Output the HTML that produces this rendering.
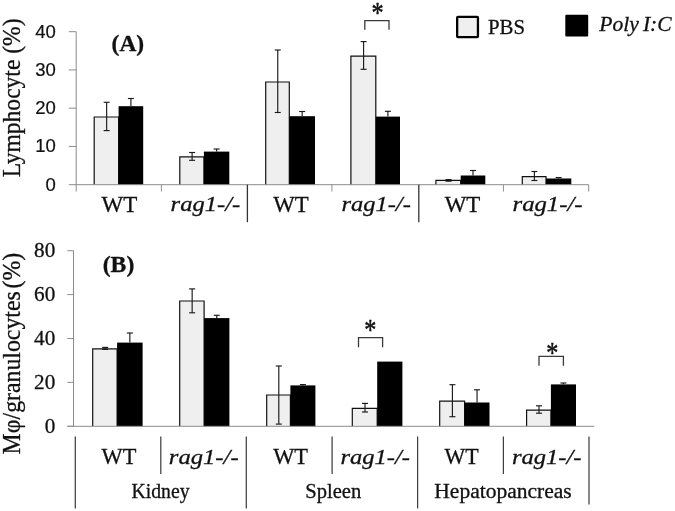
<!DOCTYPE html>
<html><head><meta charset="utf-8"><title>Figure</title>
<style>html,body{margin:0;padding:0;background:#fff}svg{display:block}</style></head>
<body><svg width="675" height="511" viewBox="0 0 675 511">
<rect width="675" height="511" fill="#fff"/>
<text x="55.80" y="190.70" font-family="&quot;Liberation Sans&quot;, sans-serif" font-size="18" text-anchor="end" textLength="10.30" lengthAdjust="spacingAndGlyphs" fill="#111" stroke="#111" stroke-width="0.2">0</text>
<text x="55.80" y="152.45" font-family="&quot;Liberation Sans&quot;, sans-serif" font-size="18" text-anchor="end" textLength="20.60" lengthAdjust="spacingAndGlyphs" fill="#111" stroke="#111" stroke-width="0.2">10</text>
<text x="55.80" y="114.20" font-family="&quot;Liberation Sans&quot;, sans-serif" font-size="18" text-anchor="end" textLength="20.60" lengthAdjust="spacingAndGlyphs" fill="#111" stroke="#111" stroke-width="0.2">20</text>
<text x="55.80" y="75.95" font-family="&quot;Liberation Sans&quot;, sans-serif" font-size="18" text-anchor="end" textLength="20.60" lengthAdjust="spacingAndGlyphs" fill="#111" stroke="#111" stroke-width="0.2">30</text>
<text x="55.80" y="37.70" font-family="&quot;Liberation Sans&quot;, sans-serif" font-size="18" text-anchor="end" textLength="20.60" lengthAdjust="spacingAndGlyphs" fill="#111" stroke="#111" stroke-width="0.2">40</text>
<rect x="94.20" y="117.00" width="24.40" height="67.70" fill="#efefef"/>
<path d="M94.20 184.70V117.00H118.60V184.70" fill="none" stroke="#111" stroke-width="1.2"/>
<rect x="118.60" y="106.20" width="24.60" height="78.50" fill="#000"/>
<line x1="106.65" y1="102.30" x2="106.65" y2="130.60" stroke="#1a1a1a" stroke-width="1.15"/>
<line x1="103.65" y1="102.30" x2="109.65" y2="102.30" stroke="#1a1a1a" stroke-width="1.15"/>
<line x1="103.65" y1="130.60" x2="109.65" y2="130.60" stroke="#1a1a1a" stroke-width="1.15"/>
<line x1="130.90" y1="98.50" x2="130.90" y2="106.20" stroke="#1a1a1a" stroke-width="1.15"/>
<line x1="127.90" y1="98.50" x2="133.90" y2="98.50" stroke="#1a1a1a" stroke-width="1.15"/>
<rect x="179.80" y="156.90" width="24.10" height="27.80" fill="#efefef"/>
<path d="M179.80 184.70V156.90H203.90V184.70" fill="none" stroke="#111" stroke-width="1.2"/>
<rect x="203.90" y="151.60" width="25.40" height="33.10" fill="#000"/>
<line x1="192.10" y1="152.50" x2="192.10" y2="160.30" stroke="#1a1a1a" stroke-width="1.15"/>
<line x1="189.10" y1="152.50" x2="195.10" y2="152.50" stroke="#1a1a1a" stroke-width="1.15"/>
<line x1="189.10" y1="160.30" x2="195.10" y2="160.30" stroke="#1a1a1a" stroke-width="1.15"/>
<line x1="216.60" y1="149.00" x2="216.60" y2="151.60" stroke="#1a1a1a" stroke-width="1.15"/>
<line x1="213.60" y1="149.00" x2="219.60" y2="149.00" stroke="#1a1a1a" stroke-width="1.15"/>
<rect x="265.70" y="82.00" width="23.60" height="102.70" fill="#efefef"/>
<path d="M265.70 184.70V82.00H289.30V184.70" fill="none" stroke="#111" stroke-width="1.2"/>
<rect x="289.30" y="116.20" width="25.70" height="68.50" fill="#000"/>
<line x1="277.75" y1="50.00" x2="277.75" y2="112.50" stroke="#1a1a1a" stroke-width="1.15"/>
<line x1="274.75" y1="50.00" x2="280.75" y2="50.00" stroke="#1a1a1a" stroke-width="1.15"/>
<line x1="274.75" y1="112.50" x2="280.75" y2="112.50" stroke="#1a1a1a" stroke-width="1.15"/>
<line x1="302.15" y1="111.50" x2="302.15" y2="116.20" stroke="#1a1a1a" stroke-width="1.15"/>
<line x1="299.15" y1="111.50" x2="305.15" y2="111.50" stroke="#1a1a1a" stroke-width="1.15"/>
<rect x="350.90" y="56.20" width="24.90" height="128.50" fill="#efefef"/>
<path d="M350.90 184.70V56.20H375.80V184.70" fill="none" stroke="#111" stroke-width="1.2"/>
<rect x="375.80" y="116.60" width="24.20" height="68.10" fill="#000"/>
<line x1="363.60" y1="41.60" x2="363.60" y2="69.30" stroke="#1a1a1a" stroke-width="1.15"/>
<line x1="360.60" y1="41.60" x2="366.60" y2="41.60" stroke="#1a1a1a" stroke-width="1.15"/>
<line x1="360.60" y1="69.30" x2="366.60" y2="69.30" stroke="#1a1a1a" stroke-width="1.15"/>
<line x1="387.90" y1="111.30" x2="387.90" y2="116.60" stroke="#1a1a1a" stroke-width="1.15"/>
<line x1="384.90" y1="111.30" x2="390.90" y2="111.30" stroke="#1a1a1a" stroke-width="1.15"/>
<rect x="435.90" y="180.40" width="24.80" height="4.30" fill="#efefef"/>
<path d="M435.90 184.70V180.40H460.70V184.70" fill="none" stroke="#111" stroke-width="1.2"/>
<rect x="460.70" y="175.50" width="24.60" height="9.20" fill="#000"/>
<line x1="448.55" y1="179.60" x2="448.55" y2="181.20" stroke="#1a1a1a" stroke-width="1.15"/>
<line x1="445.55" y1="179.60" x2="451.55" y2="179.60" stroke="#1a1a1a" stroke-width="1.15"/>
<line x1="445.55" y1="181.20" x2="451.55" y2="181.20" stroke="#1a1a1a" stroke-width="1.15"/>
<line x1="473.00" y1="170.50" x2="473.00" y2="175.50" stroke="#1a1a1a" stroke-width="1.15"/>
<line x1="470.00" y1="170.50" x2="476.00" y2="170.50" stroke="#1a1a1a" stroke-width="1.15"/>
<rect x="522.30" y="176.60" width="23.70" height="8.10" fill="#efefef"/>
<path d="M522.30 184.70V176.60H546.00V184.70" fill="none" stroke="#111" stroke-width="1.2"/>
<rect x="546.00" y="178.50" width="25.30" height="6.20" fill="#000"/>
<line x1="534.40" y1="171.50" x2="534.40" y2="180.50" stroke="#1a1a1a" stroke-width="1.15"/>
<line x1="531.40" y1="171.50" x2="537.40" y2="171.50" stroke="#1a1a1a" stroke-width="1.15"/>
<line x1="531.40" y1="180.50" x2="537.40" y2="180.50" stroke="#1a1a1a" stroke-width="1.15"/>
<line x1="558.65" y1="177.60" x2="558.65" y2="178.50" stroke="#1a1a1a" stroke-width="1.15"/>
<line x1="555.65" y1="177.60" x2="561.65" y2="177.60" stroke="#1a1a1a" stroke-width="1.15"/>
<line x1="76.20" y1="31.70" x2="76.20" y2="191.50" stroke="#8c8c8c" stroke-width="1"/>
<line x1="68.80" y1="184.70" x2="76.20" y2="184.70" stroke="#8c8c8c" stroke-width="1"/>
<line x1="68.80" y1="146.45" x2="76.20" y2="146.45" stroke="#8c8c8c" stroke-width="1"/>
<line x1="68.80" y1="108.20" x2="76.20" y2="108.20" stroke="#8c8c8c" stroke-width="1"/>
<line x1="68.80" y1="69.95" x2="76.20" y2="69.95" stroke="#8c8c8c" stroke-width="1"/>
<line x1="68.80" y1="31.70" x2="76.20" y2="31.70" stroke="#8c8c8c" stroke-width="1"/>
<line x1="76.20" y1="184.70" x2="588.70" y2="184.70" stroke="#8c8c8c" stroke-width="1"/>
<line x1="161.40" y1="184.70" x2="161.40" y2="191.50" stroke="#8c8c8c" stroke-width="1"/>
<line x1="331.90" y1="184.70" x2="331.90" y2="191.50" stroke="#8c8c8c" stroke-width="1"/>
<line x1="503.40" y1="184.70" x2="503.40" y2="191.50" stroke="#8c8c8c" stroke-width="1"/>
<line x1="588.70" y1="184.70" x2="588.70" y2="191.50" stroke="#8c8c8c" stroke-width="1"/>
<line x1="247.40" y1="184.70" x2="247.40" y2="222.20" stroke="#333" stroke-width="1.3"/>
<line x1="418.80" y1="184.70" x2="418.80" y2="222.20" stroke="#333" stroke-width="1.3"/>
<text x="101.50" y="211.50" font-family="&quot;Liberation Serif&quot;, serif" font-size="23.5" textLength="35.80" lengthAdjust="spacingAndGlyphs" fill="#111" stroke="#111" stroke-width="0.3">WT</text>
<text x="170.60" y="211.20" font-family="&quot;Liberation Serif&quot;, serif" font-size="22" font-style="italic" textLength="69.60" lengthAdjust="spacingAndGlyphs" fill="#111" stroke="#111" stroke-width="0.3">rag1-/-</text>
<text x="273.30" y="211.50" font-family="&quot;Liberation Serif&quot;, serif" font-size="23.5" textLength="35.50" lengthAdjust="spacingAndGlyphs" fill="#111" stroke="#111" stroke-width="0.3">WT</text>
<text x="341.40" y="211.20" font-family="&quot;Liberation Serif&quot;, serif" font-size="22" font-style="italic" textLength="69.40" lengthAdjust="spacingAndGlyphs" fill="#111" stroke="#111" stroke-width="0.3">rag1-/-</text>
<text x="444.70" y="211.50" font-family="&quot;Liberation Serif&quot;, serif" font-size="23.5" textLength="35.70" lengthAdjust="spacingAndGlyphs" fill="#111" stroke="#111" stroke-width="0.3">WT</text>
<text x="512.50" y="211.20" font-family="&quot;Liberation Serif&quot;, serif" font-size="22" font-style="italic" textLength="70.10" lengthAdjust="spacingAndGlyphs" fill="#111" stroke="#111" stroke-width="0.3">rag1-/-</text>
<text x="111.60" y="50.80" font-family="&quot;Liberation Serif&quot;, serif" font-size="23" font-weight="bold" textLength="32.60" lengthAdjust="spacingAndGlyphs" fill="#111" stroke="#111" stroke-width="0.3">(A)</text>
<path d="M364.80 29.70V20.60H389.00V29.70" fill="none" stroke="#3a3a3a" stroke-width="1.3"/>
<g transform="translate(377.60 21.50) scale(0.93 1.1)"><text x="0" y="0" font-family="&quot;Liberation Serif&quot;, serif" font-size="26" text-anchor="middle" fill="#111" stroke="#111" stroke-width="0.45">*</text></g>
<rect x="457.15" y="16.85" width="20.8" height="20.2" rx="0.8" fill="#efefef" stroke="#000" stroke-width="2.3"/>
<text x="488.00" y="34.10" font-family="&quot;Liberation Serif&quot;, serif" font-size="21" textLength="37.00" lengthAdjust="spacingAndGlyphs" fill="#111" stroke="#111" stroke-width="0.3">PBS</text>
<rect x="565.3" y="14.8" width="22.9" height="21.7" rx="1" fill="#000"/>
<text x="599.30" y="31.00" font-family="&quot;Liberation Serif&quot;, serif" font-size="21" font-style="italic" textLength="72.30" lengthAdjust="spacingAndGlyphs" word-spacing="-1.2" fill="#111" stroke="#111" stroke-width="0.3">Poly I:C</text>
<text x="19.60" y="177.30" font-family="&quot;Liberation Serif&quot;, serif" font-size="25.5" textLength="158.80" lengthAdjust="spacingAndGlyphs" transform="rotate(-90 19.60 177.30)" fill="#111" stroke="#111" stroke-width="0.3">Lymphocyte (%)</text>
<text x="55.30" y="432.80" font-family="&quot;Liberation Serif&quot;, serif" font-size="21" text-anchor="end" textLength="10.60" lengthAdjust="spacingAndGlyphs" fill="#111" stroke="#111" stroke-width="0.3">0</text>
<text x="55.30" y="388.90" font-family="&quot;Liberation Serif&quot;, serif" font-size="21" text-anchor="end" textLength="21.20" lengthAdjust="spacingAndGlyphs" fill="#111" stroke="#111" stroke-width="0.3">20</text>
<text x="55.30" y="345.00" font-family="&quot;Liberation Serif&quot;, serif" font-size="21" text-anchor="end" textLength="21.20" lengthAdjust="spacingAndGlyphs" fill="#111" stroke="#111" stroke-width="0.3">40</text>
<text x="55.30" y="301.10" font-family="&quot;Liberation Serif&quot;, serif" font-size="21" text-anchor="end" textLength="21.20" lengthAdjust="spacingAndGlyphs" fill="#111" stroke="#111" stroke-width="0.3">60</text>
<text x="55.30" y="257.20" font-family="&quot;Liberation Serif&quot;, serif" font-size="21" text-anchor="end" textLength="21.20" lengthAdjust="spacingAndGlyphs" fill="#111" stroke="#111" stroke-width="0.3">80</text>
<rect x="92.70" y="348.90" width="24.40" height="77.40" fill="#efefef"/>
<path d="M92.70 426.30V348.90H117.10V426.30" fill="none" stroke="#111" stroke-width="1.2"/>
<rect x="117.10" y="342.60" width="25.50" height="83.70" fill="#000"/>
<line x1="105.15" y1="347.40" x2="105.15" y2="349.40" stroke="#1a1a1a" stroke-width="1.15"/>
<line x1="102.15" y1="347.40" x2="108.15" y2="347.40" stroke="#1a1a1a" stroke-width="1.15"/>
<line x1="102.15" y1="349.40" x2="108.15" y2="349.40" stroke="#1a1a1a" stroke-width="1.15"/>
<line x1="129.85" y1="333.00" x2="129.85" y2="342.60" stroke="#1a1a1a" stroke-width="1.15"/>
<line x1="126.85" y1="333.00" x2="132.85" y2="333.00" stroke="#1a1a1a" stroke-width="1.15"/>
<rect x="179.70" y="301.00" width="24.40" height="125.30" fill="#efefef"/>
<path d="M179.70 426.30V301.00H204.10V426.30" fill="none" stroke="#111" stroke-width="1.2"/>
<rect x="204.10" y="318.10" width="25.30" height="108.20" fill="#000"/>
<line x1="192.15" y1="288.90" x2="192.15" y2="312.80" stroke="#1a1a1a" stroke-width="1.15"/>
<line x1="189.15" y1="288.90" x2="195.15" y2="288.90" stroke="#1a1a1a" stroke-width="1.15"/>
<line x1="189.15" y1="312.80" x2="195.15" y2="312.80" stroke="#1a1a1a" stroke-width="1.15"/>
<line x1="216.75" y1="315.30" x2="216.75" y2="318.10" stroke="#1a1a1a" stroke-width="1.15"/>
<line x1="213.75" y1="315.30" x2="219.75" y2="315.30" stroke="#1a1a1a" stroke-width="1.15"/>
<rect x="266.70" y="395.00" width="23.70" height="31.30" fill="#efefef"/>
<path d="M266.70 426.30V395.00H290.40V426.30" fill="none" stroke="#111" stroke-width="1.2"/>
<rect x="290.40" y="385.40" width="25.00" height="40.90" fill="#000"/>
<line x1="278.80" y1="366.00" x2="278.80" y2="424.10" stroke="#1a1a1a" stroke-width="1.15"/>
<line x1="275.80" y1="366.00" x2="281.80" y2="366.00" stroke="#1a1a1a" stroke-width="1.15"/>
<line x1="275.80" y1="424.10" x2="281.80" y2="424.10" stroke="#1a1a1a" stroke-width="1.15"/>
<line x1="302.90" y1="384.60" x2="302.90" y2="385.40" stroke="#1a1a1a" stroke-width="1.15"/>
<line x1="299.90" y1="384.60" x2="305.90" y2="384.60" stroke="#1a1a1a" stroke-width="1.15"/>
<rect x="352.30" y="408.40" width="24.90" height="17.90" fill="#efefef"/>
<path d="M352.30 426.30V408.40H377.20V426.30" fill="none" stroke="#111" stroke-width="1.2"/>
<rect x="377.20" y="361.60" width="25.20" height="64.70" fill="#000"/>
<line x1="365.00" y1="403.40" x2="365.00" y2="412.00" stroke="#1a1a1a" stroke-width="1.15"/>
<line x1="362.00" y1="403.40" x2="368.00" y2="403.40" stroke="#1a1a1a" stroke-width="1.15"/>
<line x1="362.00" y1="412.00" x2="368.00" y2="412.00" stroke="#1a1a1a" stroke-width="1.15"/>
<rect x="439.70" y="401.20" width="24.90" height="25.10" fill="#efefef"/>
<path d="M439.70 426.30V401.20H464.60V426.30" fill="none" stroke="#111" stroke-width="1.2"/>
<rect x="464.60" y="402.50" width="24.90" height="23.80" fill="#000"/>
<line x1="452.40" y1="384.70" x2="452.40" y2="416.70" stroke="#1a1a1a" stroke-width="1.15"/>
<line x1="449.40" y1="384.70" x2="455.40" y2="384.70" stroke="#1a1a1a" stroke-width="1.15"/>
<line x1="449.40" y1="416.70" x2="455.40" y2="416.70" stroke="#1a1a1a" stroke-width="1.15"/>
<line x1="477.05" y1="389.80" x2="477.05" y2="402.50" stroke="#1a1a1a" stroke-width="1.15"/>
<line x1="474.05" y1="389.80" x2="480.05" y2="389.80" stroke="#1a1a1a" stroke-width="1.15"/>
<rect x="526.60" y="410.10" width="24.30" height="16.20" fill="#efefef"/>
<path d="M526.60 426.30V410.10H550.90V426.30" fill="none" stroke="#111" stroke-width="1.2"/>
<rect x="550.90" y="384.40" width="25.10" height="41.90" fill="#000"/>
<line x1="539.00" y1="405.80" x2="539.00" y2="413.20" stroke="#1a1a1a" stroke-width="1.15"/>
<line x1="536.00" y1="405.80" x2="542.00" y2="405.80" stroke="#1a1a1a" stroke-width="1.15"/>
<line x1="536.00" y1="413.20" x2="542.00" y2="413.20" stroke="#1a1a1a" stroke-width="1.15"/>
<line x1="563.45" y1="383.00" x2="563.45" y2="384.40" stroke="#1a1a1a" stroke-width="1.15"/>
<line x1="560.45" y1="383.00" x2="566.45" y2="383.00" stroke="#1a1a1a" stroke-width="1.15"/>
<line x1="73.50" y1="250.70" x2="73.50" y2="426.30" stroke="#8c8c8c" stroke-width="1"/>
<line x1="67.30" y1="426.30" x2="73.50" y2="426.30" stroke="#8c8c8c" stroke-width="1"/>
<line x1="67.30" y1="382.40" x2="73.50" y2="382.40" stroke="#8c8c8c" stroke-width="1"/>
<line x1="67.30" y1="338.50" x2="73.50" y2="338.50" stroke="#8c8c8c" stroke-width="1"/>
<line x1="67.30" y1="294.60" x2="73.50" y2="294.60" stroke="#8c8c8c" stroke-width="1"/>
<line x1="67.30" y1="250.70" x2="73.50" y2="250.70" stroke="#8c8c8c" stroke-width="1"/>
<line x1="67.30" y1="426.30" x2="594.40" y2="426.30" stroke="#8c8c8c" stroke-width="1"/>
<path d="M358.50 347.30V337.70H382.60V347.30" fill="none" stroke="#3a3a3a" stroke-width="1.3"/>
<g transform="translate(370.30 339.10) scale(0.93 1.1)"><text x="0" y="0" font-family="&quot;Liberation Serif&quot;, serif" font-size="26" text-anchor="middle" fill="#111" stroke="#111" stroke-width="0.45">*</text></g>
<path d="M539.00 365.80V356.40H563.40V365.80" fill="none" stroke="#3a3a3a" stroke-width="1.3"/>
<g transform="translate(552.30 361.80) scale(0.93 1.1)"><text x="0" y="0" font-family="&quot;Liberation Serif&quot;, serif" font-size="26" text-anchor="middle" fill="#111" stroke="#111" stroke-width="0.45">*</text></g>
<line x1="75.30" y1="436.50" x2="75.30" y2="508.50" stroke="#404040" stroke-width="1.25"/>
<line x1="246.30" y1="436.50" x2="246.30" y2="508.50" stroke="#404040" stroke-width="1.25"/>
<line x1="417.60" y1="436.50" x2="417.60" y2="508.50" stroke="#404040" stroke-width="1.25"/>
<line x1="589.00" y1="436.50" x2="589.00" y2="504.50" stroke="#404040" stroke-width="1.25"/>
<line x1="160.80" y1="436.50" x2="160.80" y2="474.00" stroke="#404040" stroke-width="1.25"/>
<line x1="332.10" y1="436.50" x2="332.10" y2="474.00" stroke="#404040" stroke-width="1.25"/>
<line x1="503.40" y1="436.50" x2="503.40" y2="474.00" stroke="#404040" stroke-width="1.25"/>
<text x="101.60" y="464.30" font-family="&quot;Liberation Serif&quot;, serif" font-size="23.5" textLength="34.80" lengthAdjust="spacingAndGlyphs" fill="#111" stroke="#111" stroke-width="0.3">WT</text>
<text x="168.80" y="464.30" font-family="&quot;Liberation Serif&quot;, serif" font-size="22" font-style="italic" textLength="69.80" lengthAdjust="spacingAndGlyphs" fill="#111" stroke="#111" stroke-width="0.3">rag1-/-</text>
<text x="273.20" y="464.30" font-family="&quot;Liberation Serif&quot;, serif" font-size="23.5" textLength="34.90" lengthAdjust="spacingAndGlyphs" fill="#111" stroke="#111" stroke-width="0.3">WT</text>
<text x="340.40" y="464.30" font-family="&quot;Liberation Serif&quot;, serif" font-size="22" font-style="italic" textLength="69.60" lengthAdjust="spacingAndGlyphs" fill="#111" stroke="#111" stroke-width="0.3">rag1-/-</text>
<text x="444.40" y="464.30" font-family="&quot;Liberation Serif&quot;, serif" font-size="23.5" textLength="34.20" lengthAdjust="spacingAndGlyphs" fill="#111" stroke="#111" stroke-width="0.3">WT</text>
<text x="511.90" y="464.30" font-family="&quot;Liberation Serif&quot;, serif" font-size="22" font-style="italic" textLength="69.60" lengthAdjust="spacingAndGlyphs" fill="#111" stroke="#111" stroke-width="0.3">rag1-/-</text>
<text x="131.50" y="497.60" font-family="&quot;Liberation Serif&quot;, serif" font-size="20" textLength="58.00" lengthAdjust="spacingAndGlyphs" fill="#111" stroke="#111" stroke-width="0.3">Kidney</text>
<text x="305.20" y="497.60" font-family="&quot;Liberation Serif&quot;, serif" font-size="20" textLength="56.00" lengthAdjust="spacingAndGlyphs" fill="#111" stroke="#111" stroke-width="0.3">Spleen</text>
<text x="434.30" y="497.60" font-family="&quot;Liberation Serif&quot;, serif" font-size="20" textLength="137.40" lengthAdjust="spacingAndGlyphs" fill="#111" stroke="#111" stroke-width="0.3">Hepatopancreas</text>
<text x="102.70" y="272.00" font-family="&quot;Liberation Serif&quot;, serif" font-size="23" font-weight="bold" textLength="31.60" lengthAdjust="spacingAndGlyphs" fill="#111" stroke="#111" stroke-width="0.3">(B)</text>
<text x="19.60" y="454.40" font-family="&quot;Liberation Serif&quot;, serif" font-size="25.5" textLength="201.60" lengthAdjust="spacingAndGlyphs" transform="rotate(-90 19.60 454.40)" word-spacing="-3.5" fill="#111" stroke="#111" stroke-width="0.3">Mφ/granulocytes (%)</text>
</svg></body></html>
